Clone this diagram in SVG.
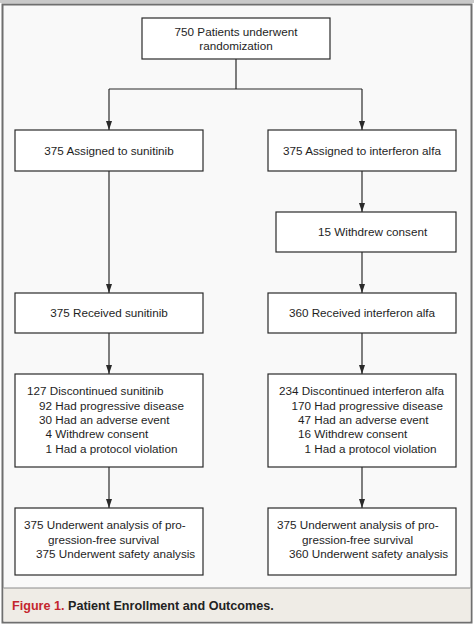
<svg xmlns="http://www.w3.org/2000/svg" width="474" height="628" viewBox="0 0 474 628">
<style>
.box{fill:#ffffff;stroke:#2a2a2a;stroke-width:1.2}
.t{font-family:"Liberation Sans",Arial,sans-serif;font-size:11.7px;fill:#1e1e1e}
.c{text-anchor:middle}
.ln{fill:none;stroke:#2a2a2a;stroke-width:1.2}
.cap{font-family:"Liberation Sans",Arial,sans-serif;font-size:12.6px;font-weight:bold}
</style>
<defs>
<marker id="ad" viewBox="0 0 6 9" refX="3" refY="9" markerWidth="6" markerHeight="9" markerUnits="userSpaceOnUse" orient="0">
<path d="M0,0 L6,0 L3,9 Z" fill="#2a2a2a"/>
</marker>
</defs>
<rect x="0" y="0" width="474" height="628" fill="#ffffff"/>
<rect x="0" y="0" width="474" height="3" fill="#c9c9c9"/>
<rect x="2.5" y="4.5" width="469" height="618" fill="#f9f9f9" stroke="#6f6f6f" stroke-width="2"/>
<rect x="3.5" y="588" width="467" height="33.5" fill="#efece6"/>
<line x1="3.5" y1="588" x2="470.5" y2="588" stroke="#8a8a8a" stroke-width="1"/>

<g id="connectors">
<path class="ln" d="M236,59 V89 M109,89 H362"/>
<line class="ln" x1="109" y1="89" x2="109" y2="130" marker-end="url(#ad)"/>
<line class="ln" x1="362" y1="89" x2="362" y2="130" marker-end="url(#ad)"/>
<line class="ln" x1="109" y1="171" x2="109" y2="293" marker-end="url(#ad)"/>
<line class="ln" x1="362" y1="171" x2="362" y2="212" marker-end="url(#ad)"/>
<line class="ln" x1="362" y1="252" x2="362" y2="293" marker-end="url(#ad)"/>
<line class="ln" x1="109" y1="333" x2="109" y2="374" marker-end="url(#ad)"/>
<line class="ln" x1="362" y1="333" x2="362" y2="374" marker-end="url(#ad)"/>
<line class="ln" x1="109" y1="467" x2="109" y2="508" marker-end="url(#ad)"/>
<line class="ln" x1="362" y1="467" x2="362" y2="508" marker-end="url(#ad)"/>
</g>

<g id="randomization">
<rect class="box" x="142" y="18" width="188" height="41"/>
<text class="t c" x="236" y="36">750 Patients underwent</text>
<text class="t c" x="236" y="49.5">randomization</text>
</g>

<g id="assigned-sunitinib">
<rect class="box" x="15" y="130" width="188" height="41"/>
<text class="t c" x="109" y="154.5">375 Assigned to sunitinib</text>
</g>

<g id="assigned-interferon">
<rect class="box" x="268" y="130" width="188" height="41"/>
<text class="t c" x="362" y="154.5">375 Assigned to interferon alfa</text>
</g>

<g id="withdrew">
<rect class="box" x="276" y="212" width="180" height="40"/>
<text class="t" x="318" y="236">15 Withdrew consent</text>
</g>

<g id="received-sunitinib">
<rect class="box" x="15" y="293" width="188" height="40"/>
<text class="t c" x="109" y="317">375 Received sunitinib</text>
</g>

<g id="received-interferon">
<rect class="box" x="268" y="293" width="188" height="40"/>
<text class="t c" x="362" y="317">360 Received interferon alfa</text>
</g>

<g id="discontinued-sunitinib">
<rect class="box" x="15" y="374" width="188" height="93"/>
<text class="t" x="27" y="395">127 Discontinued sunitinib</text>
<text class="t" x="39" y="409.5">92 Had progressive disease</text>
<text class="t" x="39" y="424">30 Had an adverse event</text>
<text class="t" x="45.5" y="438">4 Withdrew consent</text>
<text class="t" x="45.5" y="452.5">1 Had a protocol violation</text>
</g>

<g id="discontinued-interferon">
<rect class="box" x="268" y="374" width="188" height="93"/>
<text class="t" x="279" y="395">234 Discontinued interferon alfa</text>
<text class="t" x="291.5" y="409.5">170 Had progressive disease</text>
<text class="t" x="298" y="424">47 Had an adverse event</text>
<text class="t" x="298" y="438">16 Withdrew consent</text>
<text class="t" x="304.5" y="452.5">1 Had a protocol violation</text>
</g>

<g id="analysis-sunitinib">
<rect class="box" x="15" y="508" width="188" height="67"/>
<text class="t" x="24" y="529">375 Underwent analysis of pro-</text>
<text class="t" x="48" y="543.5">gression-free survival</text>
<text class="t" x="36" y="558">375 Underwent safety analysis</text>
</g>

<g id="analysis-interferon">
<rect class="box" x="268" y="508" width="188" height="67"/>
<text class="t" x="277" y="529">375 Underwent analysis of pro-</text>
<text class="t" x="302" y="543.5">gression-free survival</text>
<text class="t" x="289" y="558">360 Underwent safety analysis</text>
</g>

<g id="caption">
<text class="cap" x="12" y="609.5"><tspan fill="#c4262e">Figure 1.</tspan><tspan fill="#222222"> Patient Enrollment and Outcomes.</tspan></text>
</g>
</svg>
